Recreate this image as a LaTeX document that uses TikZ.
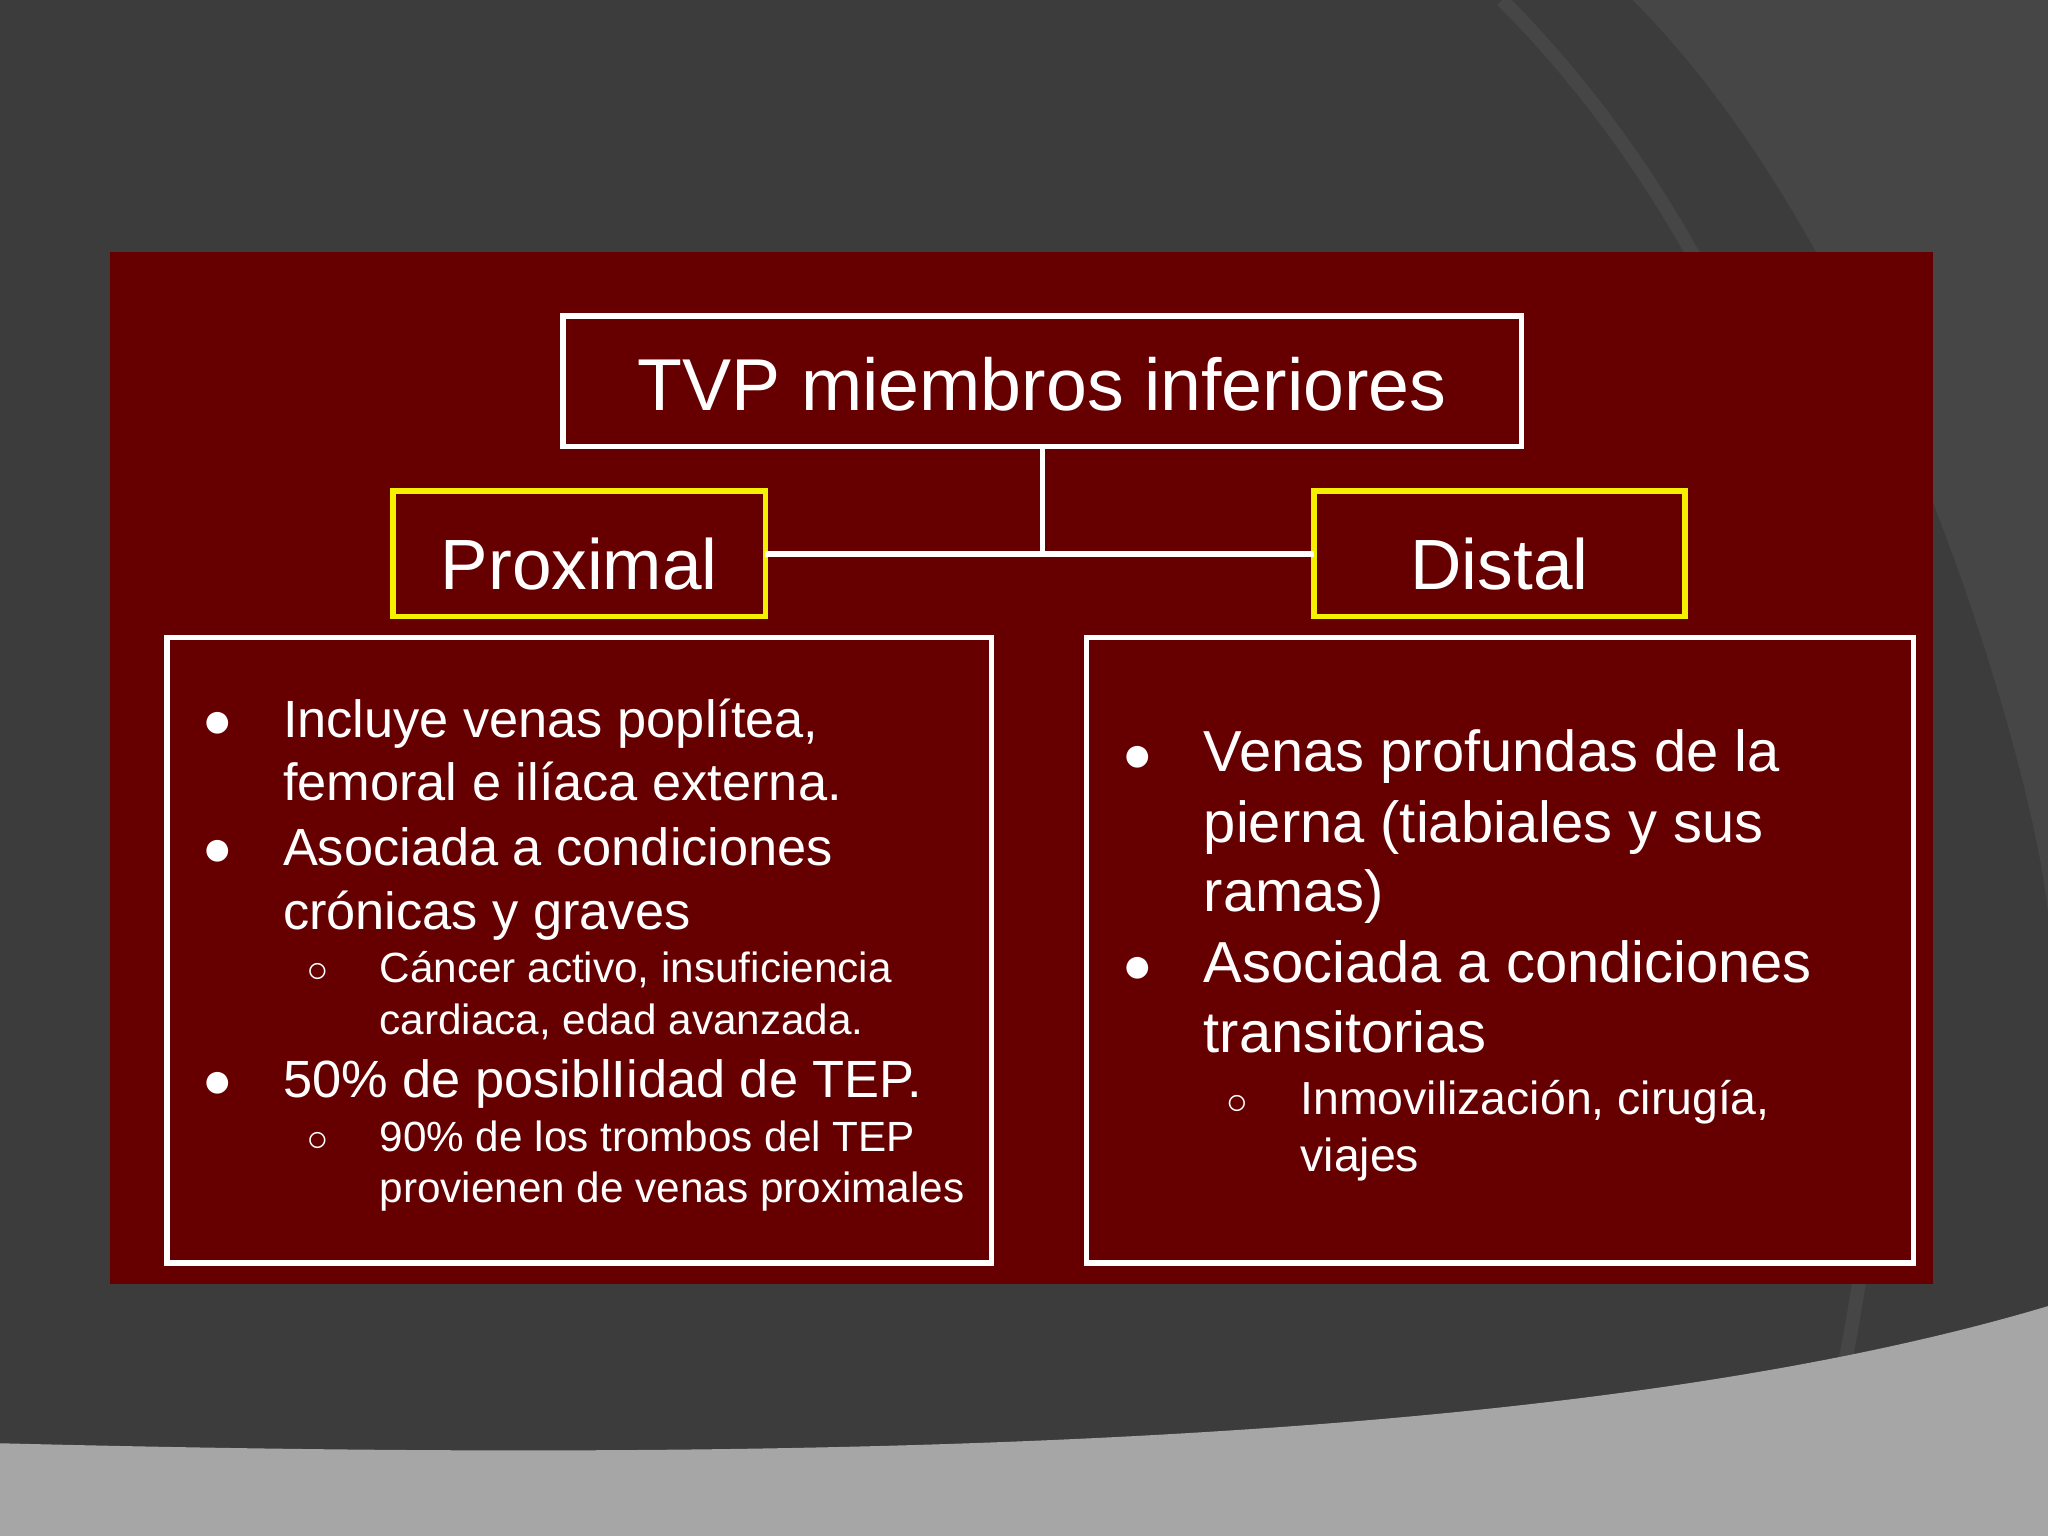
\documentclass[tikz,border=0pt]{standalone}
\usepackage{fontspec}
\setmainfont{Liberation Sans}
\definecolor{bg}{HTML}{3C3C3C}
\definecolor{bg2}{HTML}{464646}
\definecolor{wine}{HTML}{660000}
\definecolor{yel}{HTML}{F5F000}
\begin{document}
\begin{tikzpicture}[x=0.01cm,y=-0.01cm,
  wbox/.style={draw=white,line width=1.2pt},
  ybox/.style={draw=yel,line width=1.2pt},
  conn/.style={draw=white,line width=1.2pt},
  tl/.style={anchor=base west,text=white,inner sep=0pt,font=\fontsize{11.4}{13}\selectfont},
  tr/.style={anchor=base west,text=white,inner sep=0pt,font=\fontsize{12.6}{14}\selectfont},
  sl/.style={anchor=base west,text=white,inner sep=0pt,font=\fontsize{9.2}{10}\selectfont},
  sr/.style={anchor=base west,text=white,inner sep=0pt,font=\fontsize{10.1}{11}\selectfont},
  bul/.style={anchor=base,text=white,inner sep=0pt,font=\fontsize{11}{13}\selectfont},
  sbul/.style={anchor=base,text=white,inner sep=0pt,font=\fontsize{8}{10}\selectfont}]
\useasboundingbox (0,0) rectangle (1568,1176);
\fill[bg] (0,0) rectangle (1568,1176);
\fill[bg2] (1250,0) .. controls (1450,200) and (1560,600) .. (1568,700) -- (1568,0) -- cycle;
\draw[bg2,line width=3pt] (1150,0) .. controls (1400,250) and (1520,700) .. (1380,1176);
\fill[gray!70] (0,1105) .. controls (600,1120) and (1200,1110) .. (1568,1000) -- (1568,1176) -- (0,1176) -- cycle;
\fill[wine] (84,193) rectangle (1480,983);
\draw[wbox] (431,242) rectangle (1165,342);
\node[text=white,font=\fontsize{16}{19}\selectfont] (title) at (798,294) {TVP miembros inferiores};
\coordinate (tb) at (798,342);
\coordinate (j) at (798,424);
\draw[ybox] (301,376) rectangle (586,472);
\node[text=white,font=\fontsize{15.5}{18}\selectfont] (prox) at (443.5,432) {Proximal};
\draw[ybox] (1006,376) rectangle (1290,472);
\node[text=white,font=\fontsize{15.5}{18}\selectfont] (dist) at (1148,432) {Distal};
\coordinate (pr) at (586,424);
\coordinate (dl) at (1006,424);
\draw[conn] (tb) -- (j);
\draw[conn] (pr) -- (dl);
\draw[wbox] (128,488) rectangle (759,967);
\draw[wbox] (832,488) rectangle (1465,967);
% left
\node[bul] (b1) at (167,565) {●};
\node[tl] (l1) at (216,565) {Incluye venas poplítea,};
\node[tl] (l2) at (216,613) {femoral e ilíaca externa.};
\node[bul] (b2) at (167,663) {●};
\node[tl] (l3) at (216,663) {Asociada a condiciones};
\node[tl] (l4) at (216,712) {crónicas y graves};
\node[sbul] (s1) at (243,752) {○};
\node[sl] (l5) at (290,752) {Cáncer activo, insuficiencia};
\node[sl] (l6) at (290,792) {cardiaca, edad avanzada.};
\node[bul] (b3) at (167,840) {●};
\node[tl] (l7) at (216,840) {50\% de posiblIidad de TEP.};
\node[sbul] (s2) at (243,882) {○};
\node[sl] (l8) at (290,882) {90\% de los trombos del TEP};
\node[sl] (l9) at (290,921) {provienen de venas proximales};
% right
\node[bul] (rb1) at (871,591) {●};
\node[tr] (r1) at (921,591) {Venas profundas de la};
\node[tr] (r2) at (921,645) {pierna (tiabiales y sus};
\node[tr] (r3) at (921,698) {ramas)};
\node[bul] (rb2) at (871,752) {●};
\node[tr] (r4) at (921,752) {Asociada a condiciones};
\node[tr] (r5) at (921,806) {transitorias};
\node[sbul] (rs1) at (947,853) {○};
\node[sr] (r6) at (995,853) {Inmovilización, cirugía,};
\node[sr] (r7) at (995,897) {viajes};
\end{tikzpicture}
\end{document}
